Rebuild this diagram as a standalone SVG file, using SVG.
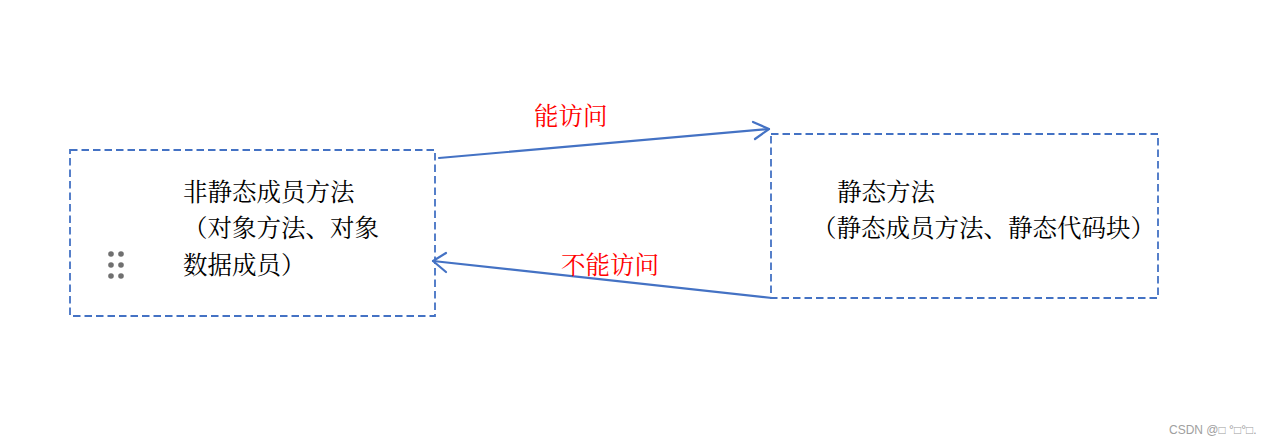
<svg xmlns="http://www.w3.org/2000/svg" width="1265" height="445" viewBox="0 0 1265 445">
<style>
.box{fill:none;stroke:#4472C4;stroke-width:1.8;stroke-dasharray:7.5 4}
.conn{fill:none;stroke:#4472C4;stroke-width:2.2;stroke-linecap:round;stroke-linejoin:round}
.t{font-family:"Noto Serif CJK SC","Noto Sans CJK SC",serif;font-size:24.5px;fill:#000}
.lbl{font-family:"Noto Serif CJK SC","Noto Sans CJK SC",sans-serif;font-size:24.5px;fill:#FF0000}
.dot{fill:#707070}
</style>
<rect width="1265" height="445" fill="#fff"/>
<g id="node-nonstatic">
<rect class="box" x="70" y="150" width="365" height="166"/>
<text class="t" x="183" y="201">非静态成员方法</text>
<text class="t" x="183" y="237">（对象方法、对象</text>
<text class="t" x="183" y="274">数据成员）</text>
<g id="handle">
<circle class="dot" cx="111" cy="254" r="2.8"/><circle class="dot" cx="121" cy="254" r="2.8"/>
<circle class="dot" cx="111" cy="265" r="2.8"/><circle class="dot" cx="121" cy="265" r="2.8"/>
<circle class="dot" cx="111" cy="276" r="2.8"/><circle class="dot" cx="121" cy="276" r="2.8"/>
</g>
</g>
<g id="node-static">
<rect class="box" x="771" y="134" width="387" height="164"/>
<text class="t" x="837" y="201">静态方法</text>
<text class="t" x="812" y="237">（静态成员方法、静态代码块）</text>
</g>
<g id="connectors">
<path class="conn" d="M439,158 L769,129"/>
<path class="conn" d="M753,122 L769,129 L755,139"/>
<path class="conn" d="M772,298 L433,261"/>
<path class="conn" d="M446,253 L433,261 L446,272"/>
<text class="lbl" x="534" y="125">能访问</text>
<text class="lbl" x="561" y="274">不能访问</text>
</g>
<text x="1169" y="434" font-family="Liberation Sans, sans-serif" font-size="12" fill="#a0a0a0">CSDN @□ °□°□.</text>
</svg>
